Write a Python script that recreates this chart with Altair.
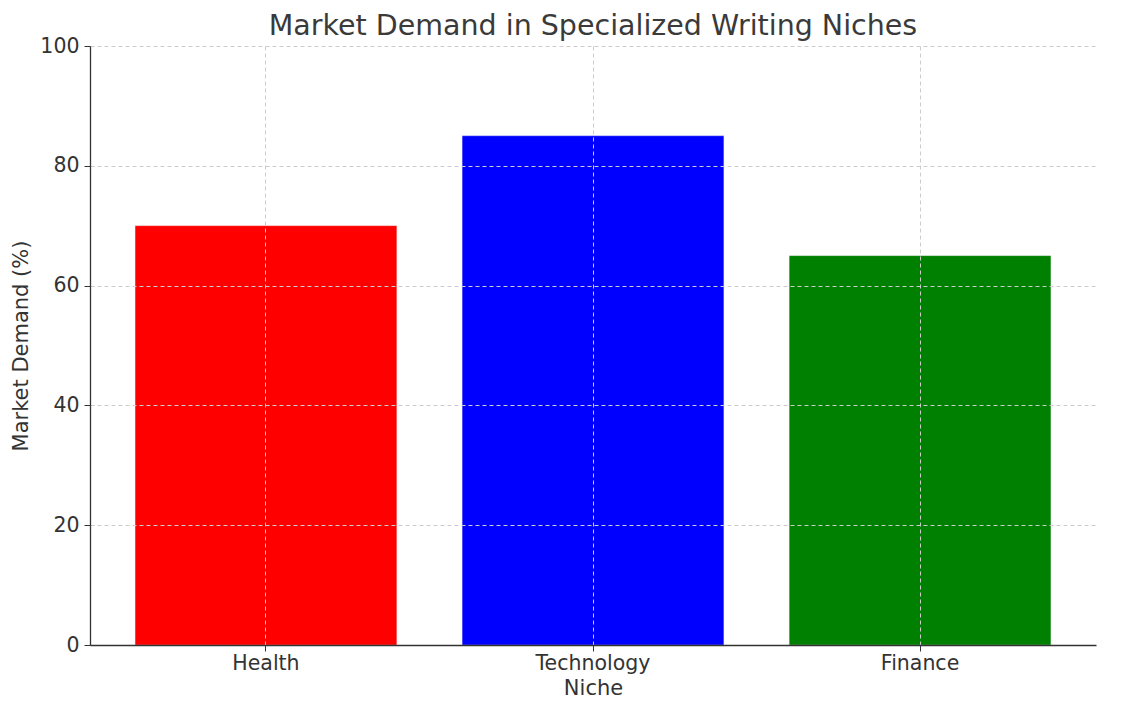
import altair as alt
import pandas as pd

niches = ["Health", "Technology", "Finance"]
demand = [70, 85, 65]
colors = ["#ff0000", "#0000ff", "#008000"]

df = pd.DataFrame({"Niche": niches, "Demand": demand, "Color": colors})

FONT = "DejaVu Sans"
TXT = "#333333"

chart = alt.Chart(df).mark_bar(stroke="#dddddd", strokeWidth=0.5, strokeOpacity=0.6).encode(
    x=alt.X(
        "Niche:N",
        sort=niches,
        scale=alt.Scale(paddingInner=0.2, paddingOuter=0.138),
        axis=alt.Axis(
            title="Niche",
            labelAngle=0,
            grid=True,
            gridDash=[4, 3],
            gridColor="#cccccc",
            bandPosition=0.5,
            tickSize=6,
            tickColor=TXT,
            domainColor=TXT,
            domainWidth=1.3,
            labelPadding=2,
            titlePadding=4,
            zindex=1,
        ),
    ),
    y=alt.Y(
        "Demand:Q",
        scale=alt.Scale(domain=[0, 100], nice=False),
        axis=alt.Axis(
            title="Market Demand (%)",
            values=[0, 20, 40, 60, 80, 100],
            grid=True,
            gridDash=[4, 3],
            gridColor="#cccccc",
            tickSize=6,
            tickColor=TXT,
            domainColor=TXT,
            domainWidth=1.3,
            labelPadding=5,
            titlePadding=8,
            zindex=1,
        ),
    ),
    color=alt.Color("Color:N", scale=None),
).properties(
    width=1006,
    height=599,
    title=alt.Title(
        "Market Demand in Specialized Writing Niches",
        font=FONT,
        fontSize=28.5,
        fontWeight="normal",
        color="#3a3a3a",
        anchor="middle",
        offset=8,
        dy=12,
    ),
    autosize=alt.AutoSizeParams(type="none"),
    padding={"left": 82, "top": 38, "right": 30, "bottom": 60},
).configure_view(
    stroke=None
).configure_axis(
    labelFont=FONT,
    titleFont=FONT,
    labelFontSize=20.5,
    titleFontSize=21,
    labelColor=TXT,
    titleColor=TXT,
    titleFontWeight="normal",
)

chart.save("out.html", embed_options={"renderer": "svg", "actions": False})
